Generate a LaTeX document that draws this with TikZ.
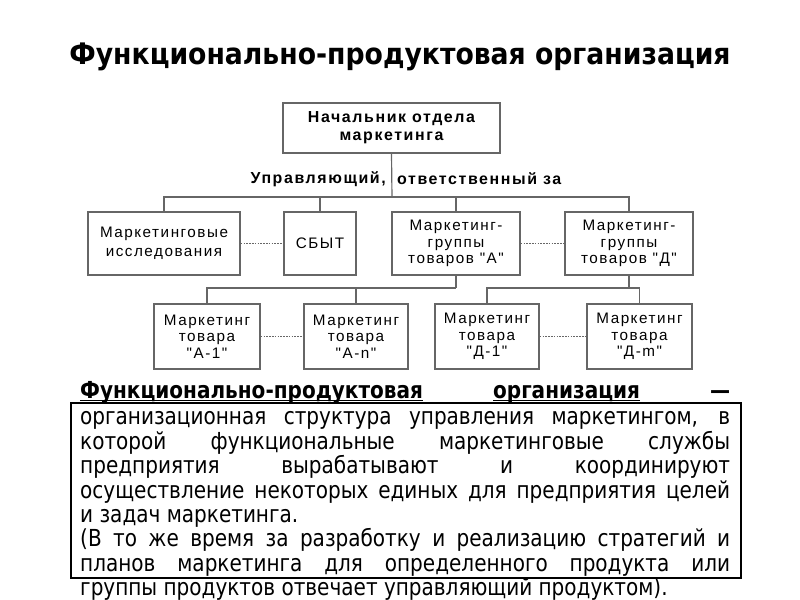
\documentclass[tikz,border=0pt]{standalone}
\usepackage{fontspec}
\setmainfont{DejaVu Sans Condensed}[FakeStretch=0.95]
\newfontfamily\headfont{DejaVu Sans Condensed}
\newfontfamily\boxfont[LetterSpace=10]{Liberation Sans}
\usetikzlibrary{calc}
\tikzstyle{every picture}=[x=0.03cm,y=-0.03cm]
\tikzstyle{unit}=[draw=black!60,line width=1.2pt,align=center,inner sep=0pt,
  font=\boxfont\fontsize{13}{14}\selectfont]
\tikzstyle{link}=[draw=black!60,line width=1pt]
\tikzstyle{dots}=[draw=black!60,line width=1.4pt,dash pattern=on 1.4pt off 1pt]
\newcommand{\ulword}[1]{\underline{\smash{#1}}}

\begin{document}
\begin{tikzpicture}
    \useasboundingbox (0,0) rectangle (800,600);
    % title
    \node[font=\headfont\bfseries\fontsize{25.3}{28}\selectfont] (title) at (400,57)
        {Функционально-продуктовая организация};
    % head of the department
    \node[unit,minimum width=6.51cm,minimum height=1.5cm,
        font=\boxfont\bfseries\fontsize{13.6}{15.5}\selectfont] (boss) at (391.5,128)
        {Начальник отдела\\маркетинга};
    \node[anchor=east,inner sep=0pt,font=\boxfont\bfseries\fontsize{13.6}{14}\selectfont]
        (lbl) at (386,179) {Управляющий,};
    \node[anchor=west,inner sep=0pt,font=\boxfont\bfseries\fontsize{13.6}{14}\selectfont]
        (lblb) at (397,179) {ответственный за};
    % first row
    \node[unit,minimum width=4.56cm,minimum height=1.89cm,
        font=\boxfont\fontsize{13}{16}\selectfont] (mi) at (164,243.5)
        {Маркетинговые\\исследования};
    \node[unit,minimum width=2.16cm,minimum height=1.89cm] (sbyt) at (320,243.5) {СБЫТ};
    \node[unit,minimum width=3.84cm,minimum height=1.89cm] (ga) at (456,243.5)
        {Маркетинг-\\группы\\товаров "А"};
    \node[unit,minimum width=3.84cm,minimum height=1.89cm] (gd) at (629,243.5)
        {Маркетинг-\\группы\\товаров "Д"};
    % second row
    \node[unit,minimum width=3.18cm,minimum height=1.95cm] (a1) at (207,336.5)
        {Маркетинг\\товара\\"А-1"};
    \node[unit,minimum width=3.12cm,minimum height=1.95cm] (an) at (356,336.5)
        {Маркетинг\\товара\\"А-n"};
    \node[unit,minimum width=3.12cm,minimum height=1.95cm] (d1) at (487,336.5)
        {Маркетинг\\товара\\"Д-1"};
    \node[unit,minimum width=3.15cm,minimum height=1.95cm] (dm) at (639.5,336.5)
        {Маркетинг\\товара\\"Д-m"};
    % tree lines
    \coordinate (j1) at (392,197);
    \coordinate (j2) at (456,288);
    \coordinate (j3) at (629,288);
    \draw[link] (boss.south) -- (j1);
    \draw[link] (mi.north) |- (j1);
    \draw[link] (gd.north) |- (j1);
    \draw[link] (sbyt.north) -- (sbyt.north |- j1);
    \draw[link] (ga.north) -- (ga.north |- j1);
    \draw[link] (ga.south) -- (j2);
    \draw[link] (a1.north) |- (j2);
    \draw[link] (an.north) -- (an.north |- j2);
    \draw[link] (gd.south) -- (j3);
    \draw[link] (d1.north) |- (j3);
    \draw[link] (dm.north) |- (j3);
    % dotted links
    \draw[dots] (mi.east) -- (sbyt.west);
    \draw[dots] (ga.east) -- (gd.west);
    \draw[dots] (a1.east) -- (an.west);
    \draw[dots] (d1.east) -- (dm.west);
    % definition
    \draw[line width=1.2pt] (71,403) rectangle (741,578);
    \node[anchor=base west,inner sep=0pt,font=\fontsize{20}{20.8}\selectfont] (term)
        at (80,398.5) {\makebox[19.5cm][s]{\bfseries
        \ulword{Функционально-продуктовая} \ulword{организация} —}};
    \node[anchor=base west,inner sep=0pt,font=\fontsize{20}{20.8}\selectfont] (def)
        at (80,425) {\parbox[t]{19.5cm}{\hyphenpenalty=10000\exhyphenpenalty=10000
        \baselineskip=20.8pt\noindent
        организационная структура управления маркетингом, в\linebreak
        которой функциональные маркетинговые службы\linebreak
        предприятия вырабатывают и координируют\linebreak
        осуществление некоторых единых для предприятия целей\linebreak
        и задач маркетинга.\par\noindent
        (В то же время за разработку и реализацию стратегий и\linebreak
        планов маркетинга для определенного продукта или\linebreak
        группы продуктов отвечает управляющий продуктом).}};
\end{tikzpicture}
\end{document}
